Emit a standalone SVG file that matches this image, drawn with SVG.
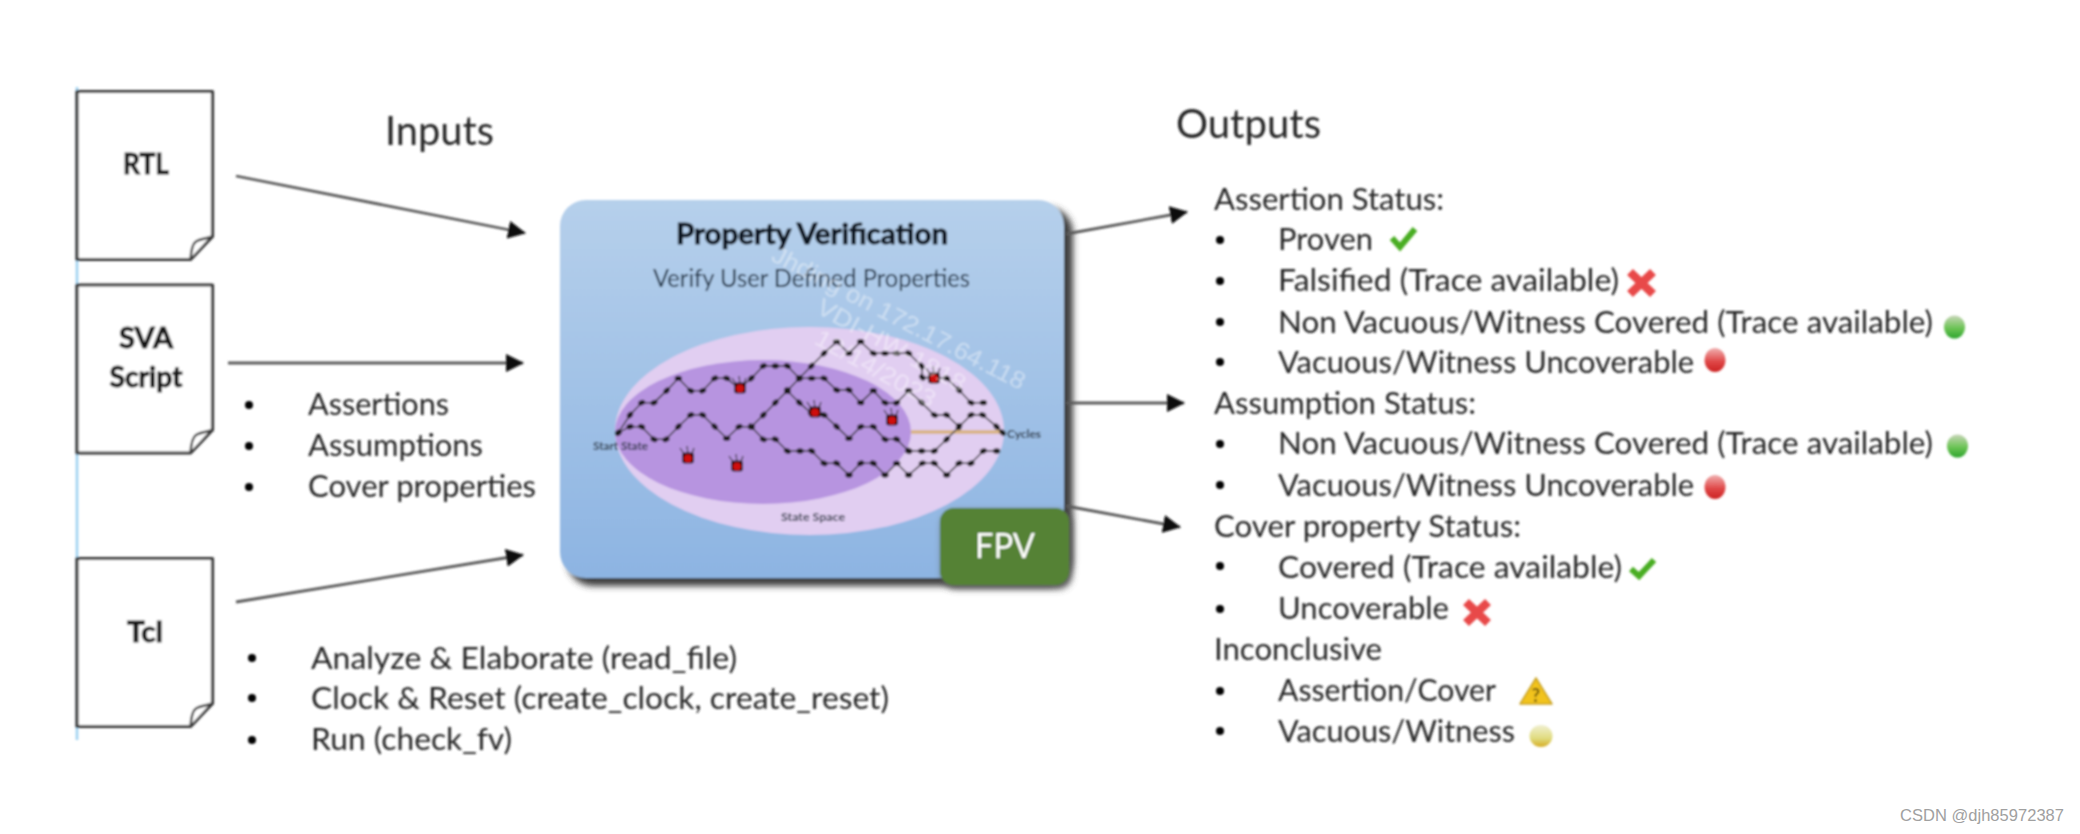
<svg xmlns="http://www.w3.org/2000/svg" width="2080" height="834" viewBox="0 0 2080 834">
<style>
text{font-family:"Lato","Open Sans","Liberation Sans",sans-serif;fill:#262626}
.t{font-size:30px}
.bu{fill:#000}
.b{font-weight:700;font-size:28px;text-anchor:middle;fill:#161616;stroke:#161616;stroke-width:.9px}
.pt{font-size:28px;font-weight:700;fill:#0c1622;stroke:#0c1622;stroke-width:.9px;text-anchor:middle}
.h{font-size:40px}
.small{font-size:11px;font-weight:700;fill:#2a3644}
.wm{font-family:"Liberation Sans",sans-serif;font-size:24px;fill:#fff;fill-opacity:.42}
.doc{fill:#fff;stroke:#3a3a3a;stroke-width:3.200;stroke-linejoin:round}
.conn{fill:none;stroke:#5a5a5a;stroke-width:2.800;marker-end:url(#ah)}
.lat{fill:none;stroke:#3a3a3a;stroke-width:4.500;marker-start:url(#nd);marker-mid:url(#nd);marker-end:url(#nd)}
.chk{fill:none;stroke:#48ad24;stroke-width:6}
.x{fill:none;stroke:#e84848;stroke-width:8.500}
</style>
<defs>
<filter id="soft" x="-5%" y="-5%" width="110%" height="110%"><feGaussianBlur stdDeviation="0.8"/></filter>
<filter id="sh" x="-10%" y="-10%" width="120%" height="120%"><feGaussianBlur stdDeviation="3"/></filter>
<linearGradient id="bg" x1="0" y1="0" x2="0" y2="1"><stop offset="0" stop-color="#b6d0eb"/><stop offset="1" stop-color="#8db4e2"/></linearGradient>
<linearGradient id="gr" x1="0" y1="0" x2="0" y2="1"><stop offset="0" stop-color="#c8d6b8"/><stop offset=".55" stop-color="#6cc455"/><stop offset="1" stop-color="#2da52d"/></linearGradient>
<linearGradient id="rd" x1="0" y1="0" x2="0" y2="1"><stop offset="0" stop-color="#f0b0b0"/><stop offset=".55" stop-color="#e04a4a"/><stop offset="1" stop-color="#cc2020"/></linearGradient>
<linearGradient id="yl" x1="0" y1="0" x2="0" y2="1"><stop offset="0" stop-color="#f0efd0"/><stop offset=".6" stop-color="#e0dc80"/><stop offset="1" stop-color="#d6ac20"/></linearGradient>
<marker id="ah" viewBox="0 0 18 18" refX="17" refY="9" markerWidth="18" markerHeight="18" markerUnits="userSpaceOnUse" orient="auto"><path d="M0 0L18 9L0 18Z" fill="#111"/></marker>
<marker id="nd" viewBox="-14 -14 28 28" refX="0" refY="0" markerWidth="28" markerHeight="28" markerUnits="userSpaceOnUse" orient="auto"><ellipse rx="11" ry="8" fill="#1c1c1c"/></marker>
<g id="bug"><path d="M-4-4L-8-10M0-4L-1-12M4-4L6-10" stroke="#333" stroke-width="1.200" fill="none"/><rect x="-6" y="-5.500" width="12" height="11" rx="3" fill="#240808"/><circle cy=".5" r="4" fill="#d01010"/></g>
<g id="docshape"><path class="doc" d="M0 0H135.500V145L113.500 168H0Z"/><path d="M113.500 168C114 160 116 152 119 150C124 147 130 147 135.500 145C130 150 122 160 113.500 168Z" fill="#fff" stroke="#3a3a3a" stroke-width="2.500" stroke-linejoin="round"/></g>
</defs>
<rect width="2080" height="834" fill="#fff"/>
<g filter="url(#soft)">
<path d="M77 87V740" stroke="#9dd0f0" stroke-width="2.500" fill="none"/>

<g id="node-rtl"><use href="#docshape" transform="translate(77 91.500)"/><text class="b" x="146" y="174" textLength="46" lengthAdjust="spacingAndGlyphs">RTL</text></g>
<g id="node-sva"><use href="#docshape" transform="translate(77 285)"/><text class="b" x="146" y="348" textLength="54" lengthAdjust="spacingAndGlyphs">SVA</text><text class="b" x="146" y="387" textLength="73" lengthAdjust="spacingAndGlyphs">Script</text></g>
<g id="node-tcl"><use href="#docshape" transform="translate(77 558.500)"/><text class="b" x="145" y="642" textLength="36" lengthAdjust="spacingAndGlyphs">Tcl</text></g>

<text class="h" x="385" y="145" textLength="109" lengthAdjust="spacingAndGlyphs">Inputs</text>
<text class="h" x="1176" y="138" textLength="145" lengthAdjust="spacingAndGlyphs">Outputs</text>

<g id="input-list" transform="translate(-1 1)">
<circle class="bu" cx="250" cy="404" r="4"/><text class="t" x="309" y="414" textLength="141" lengthAdjust="spacingAndGlyphs">Assertions</text>
<circle class="bu" cx="250" cy="445" r="4"/><text class="t" x="309" y="455" textLength="175" lengthAdjust="spacingAndGlyphs">Assumptions</text>
<circle class="bu" cx="250" cy="486" r="4"/><text class="t" x="309" y="496" textLength="228" lengthAdjust="spacingAndGlyphs">Cover properties</text>
<circle class="bu" cx="253" cy="657" r="4"/><text class="t" x="312" y="668" textLength="426" lengthAdjust="spacingAndGlyphs">Analyze &amp; Elaborate (read_file)</text>
<circle class="bu" cx="253" cy="697" r="4"/><text class="t" x="312" y="708" textLength="578" lengthAdjust="spacingAndGlyphs">Clock &amp; Reset (create_clock, create_reset)</text>
<circle class="bu" cx="253" cy="739" r="4"/><text class="t" x="312" y="749" textLength="201" lengthAdjust="spacingAndGlyphs">Run (check_fv)</text>
</g>

<g id="node-fpv-core">
<rect x="567" y="207" width="506" height="379" rx="26" fill="#3c3c3c" filter="url(#sh)"/>
<rect x="560" y="200" width="504" height="378" rx="26" fill="url(#bg)"/>
<ellipse cx="809.500" cy="431" rx="194.500" ry="104" fill="#e1cef1"/>
<ellipse cx="763" cy="432" rx="148" ry="72" fill="#b794e0"/>
<path d="M911 432H1003" stroke="#d8b27e" stroke-width="3.500" fill="none"/>
<g transform="translate(590 320) scale(.33333)">
<polyline class="lat" points="85,338 120,285 155,248 192,248 230,212 265,175 302,212 338,212 374,175 410,175 447,205 484,175 520,138 556,138 592,138 628,175 665,175 702,175 740,210 777,210 812,248 850,212 885,248 920,248 956,212 995,248 1033,285 1070,285 1107,320 1070,358 1033,393 995,393 956,393"/>
<polyline class="lat" points="85,338 120,320 155,320 192,358 228,358 265,320 302,285 338,285 374,320 410,355 447,320 484,320 520,285 556,248 592,212 628,175 664,138 702,100 740,65 777,100 812,65 850,100 885,100 920,100 956,100 995,138 997,172 1033,175 1070,175 1107,210 1143,248 1180,248"/>
<polyline class="lat" points="484,320 520,358 556,358 592,393 630,393 665,393 702,430 740,430 777,465 812,430 850,430 885,465 920,430 956,465 997,430 1033,430 1070,465 1107,430 1143,430 1180,393 1220,393"/>
<polyline class="lat" points="592,212 628,248 664,280 702,285 740,320 777,355 812,320 850,320 885,358 920,358 956,393"/>
<polyline class="lat" points="1107,320 1143,285 1178,285 1220,320 1238,338"/>
</g>
<use href="#bug" x="688" y="458"/><use href="#bug" x="737" y="466"/><use href="#bug" x="740" y="388"/><use href="#bug" x="815" y="412"/><use href="#bug" x="892" y="420"/><use href="#bug" x="934" y="378"/>
<text class="pt" x="812" y="244" textLength="272" lengthAdjust="spacingAndGlyphs">Property Verification</text>
<text style="font-size:25px;fill:#1e3045;text-anchor:middle" x="811.500" y="287" textLength="317" lengthAdjust="spacingAndGlyphs">Verify User Defined Properties</text>
<text class="small" x="593" y="450" textLength="55" lengthAdjust="spacingAndGlyphs">Start State</text>
<text class="small" x="1007" y="438" textLength="34" lengthAdjust="spacingAndGlyphs">Cycles</text>
<text class="small" x="781" y="521" textLength="64" lengthAdjust="spacingAndGlyphs">State Space</text>
<text class="wm" transform="translate(770 260) rotate(27.500)" textLength="282" lengthAdjust="spacingAndGlyphs">Jhding on 172.17.64.118</text>
<text class="wm" transform="translate(815 312) rotate(29)" textLength="166" lengthAdjust="spacingAndGlyphs">VDI-HW-1818</text>
<text class="wm" transform="translate(813 343) rotate(29)" textLength="134" lengthAdjust="spacingAndGlyphs">12/14/2023</text>
</g>

<g id="node-fpv">
<rect x="942" y="511" width="130" height="78" rx="14" fill="#555" filter="url(#sh)"/>
<rect x="940" y="508" width="129" height="77" rx="14" fill="#548235"/>
<text x="1005" y="558" text-anchor="middle" style="font-size:34px;fill:#fff" textLength="60" lengthAdjust="spacingAndGlyphs">FPV</text>
</g>

<g id="connectors">
<line class="conn" x1="236" y1="176" x2="525" y2="233"/>
<line class="conn" x1="228" y1="363" x2="523" y2="363"/>
<line class="conn" x1="236" y1="602" x2="523" y2="555"/>
<line class="conn" x1="1066" y1="234" x2="1187" y2="212"/>
<line class="conn" x1="1066" y1="403" x2="1184" y2="403"/>
<line class="conn" x1="1066" y1="506" x2="1180" y2="527"/>
</g>

<g id="output-list" transform="translate(-1 1)">
<text class="t" x="1215" y="209" textLength="230" lengthAdjust="spacingAndGlyphs">Assertion Status:</text>
<circle class="bu" cx="1221" cy="239" r="4"/><text class="t" x="1279" y="249" textLength="95" lengthAdjust="spacingAndGlyphs">Proven</text>
<path class="chk" d="M1393 237L1401 246L1416 228"/>
<circle class="bu" cx="1221" cy="280" r="4"/><text class="t" x="1279" y="290" textLength="341" lengthAdjust="spacingAndGlyphs">Falsified (Trace available)</text>
<path class="x" d="M1631 271L1654 293M1654 271L1631 293"/>
<circle class="bu" cx="1221" cy="321" r="4"/><text class="t" x="1279" y="332" textLength="655" lengthAdjust="spacingAndGlyphs">Non Vacuous/Witness Covered (Trace available)</text>
<ellipse cx="1955.500" cy="326" rx="10.500" ry="11.500" fill="url(#gr)"/>
<circle class="bu" cx="1221" cy="361" r="4"/><text class="t" x="1279" y="372" textLength="416" lengthAdjust="spacingAndGlyphs">Vacuous/Witness Uncoverable</text>
<ellipse cx="1716" cy="359" rx="10.500" ry="12" fill="url(#rd)"/>
<text class="t" x="1215" y="413" textLength="262" lengthAdjust="spacingAndGlyphs">Assumption Status:</text>
<circle class="bu" cx="1221" cy="443" r="4"/><text class="t" x="1279" y="453" textLength="655" lengthAdjust="spacingAndGlyphs">Non Vacuous/Witness Covered (Trace available)</text>
<ellipse cx="1958.500" cy="445" rx="10.500" ry="11.500" fill="url(#gr)"/>
<circle class="bu" cx="1221" cy="484" r="4"/><text class="t" x="1279" y="495" textLength="416" lengthAdjust="spacingAndGlyphs">Vacuous/Witness Uncoverable</text>
<ellipse cx="1716" cy="486" rx="10.500" ry="12" fill="url(#rd)"/>
<text class="t" x="1215" y="536" textLength="307" lengthAdjust="spacingAndGlyphs">Cover property Status:</text>
<circle class="bu" cx="1221" cy="565" r="4"/><text class="t" x="1279" y="577" textLength="344" lengthAdjust="spacingAndGlyphs">Covered (Trace available)</text>
<path class="chk" d="M1632 568L1640 575L1655 559"/>
<circle class="bu" cx="1221" cy="608" r="4"/><text class="t" x="1279" y="618" textLength="171" lengthAdjust="spacingAndGlyphs">Uncoverable</text>
<path class="x" d="M1467 601L1489 622M1489 601L1467 622"/>
<text class="t" x="1215" y="659" textLength="168" lengthAdjust="spacingAndGlyphs">Inconclusive</text>
<circle class="bu" cx="1221" cy="690" r="4"/><text class="t" x="1279" y="700" textLength="218" lengthAdjust="spacingAndGlyphs">Assertion/Cover</text>
<path d="M1537 677L1553 703H1521Z" fill="#f2c31c" stroke="#c9a227" stroke-width="1.500" stroke-linejoin="round"/>
<text x="1537" y="701" text-anchor="middle" style="font-size:18px;font-weight:700;fill:#6a5510">?</text>
<circle class="bu" cx="1221" cy="730" r="4"/><text class="t" x="1279" y="741" textLength="237" lengthAdjust="spacingAndGlyphs">Vacuous/Witness</text>
<ellipse cx="1542" cy="735" rx="11.500" ry="11" fill="url(#yl)"/>
</g>
</g>
<text x="1900" y="821" style="font-family:'Liberation Sans',sans-serif;font-size:16.500px;fill:#a0a0a0" textLength="164">CSDN @djh85972387</text>
</svg>
